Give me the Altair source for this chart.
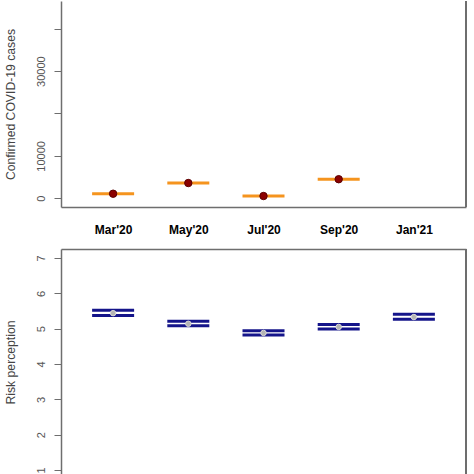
import altair as alt
import pandas as pd

# Survey waves
waves = ["Mar'20", "May'20", "Jul'20", "Sep'20", "Jan'21"]

# Confirmed COVID-19 cases per wave (no figure for Jan'21)
case_waves = ["Mar'20", "May'20", "Jul'20", "Sep'20"]
cases = [1080, 3600, 540, 4500]

# Mean risk perception with 95% CI per wave
risk_mean = [5.44, 5.14, 4.88, 5.05, 5.33]
risk_low = [5.37, 5.08, 4.82, 4.99, 5.27]
risk_high = [5.52, 5.21, 4.94, 5.12, 5.41]

cases_df = pd.DataFrame({"wave": case_waves, "cases": cases})
risk_df = pd.DataFrame({"wave": waves, "mean": risk_mean,
                        "low": risk_low, "high": risk_high})

W = 405
FONT = "Liberation Sans"
FRAME = "#6e6e6e"
LABEL = "#555555"

x_scale = alt.Scale(type="point", domain=waves, padding=0.693)


def y_axis(title, values, label_expr=None):
    kw = dict(title=title, values=values, format="d", labelAngle=-90,
              labelFont=FONT, labelFontSize=11, labelColor=LABEL,
              labelPadding=8, labelBaseline="bottom", labelAlign="center",
              titleFont=FONT, titleFontSize=12.2, titleFontWeight="normal",
              titleColor="#444444", titlePadding=18, tickSize=7,
              tickColor=FRAME, domainColor=FRAME, domainWidth=1.5,
              grid=False)
    if label_expr:
        kw["labelExpr"] = label_expr
    return alt.Axis(**kw)


# --- Top panel: confirmed cases ---
H1 = 206
top_x = alt.X("wave:N", scale=x_scale, sort=waves,
              axis=alt.Axis(title=None, orient="bottom", ticks=False,
                            labelAngle=0, labelFont=FONT, labelFontSize=12,
                            labelFontWeight="bold", labelColor="black",
                            labelPadding=17, domainColor=FRAME,
                            domainWidth=1.5))
top_y = alt.Y("cases:Q",
              scale=alt.Scale(domain=[-2052, 46533], nice=False, zero=False),
              axis=y_axis("Confirmed COVID-19 cases",
                          [0, 10000, 20000, 30000, 40000],
                          "datum.value == 20000 || datum.value == 40000 ? '' : datum.label"))

top_base = alt.Chart(cases_df).encode(x=top_x, y=top_y)
top_bar = top_base.mark_tick(size=42, thickness=3, color="#f5941e", opacity=1)
top_pt = top_base.mark_point(filled=True, size=55, color="#8b0000",
                             stroke="#5c0000", strokeWidth=1, opacity=1)
top_right = alt.Chart(cases_df).mark_rule(color=FRAME, strokeWidth=1.5).encode(
    x=alt.value(W), y=alt.value(0), y2=alt.value(H1))
top = alt.layer(top_bar, top_pt, top_right).properties(width=W, height=H1)

# --- Bottom panel: risk perception ---
H2 = 226
bot_x = alt.X("wave:N", scale=x_scale, sort=waves,
              axis=alt.Axis(title=None, orient="top", labels=False,
                            ticks=False, domainColor=FRAME, domainWidth=1.5))
bot_scale = alt.Scale(domain=[0.86, 7.255], nice=False, zero=False)
bot_axis = y_axis("Risk perception", [1, 2, 3, 4, 5, 6, 7])

rb = alt.Chart(risk_df)
low_tick = rb.mark_tick(size=42, thickness=3, color="#14148a", opacity=1).encode(
    x=bot_x, y=alt.Y("low:Q", scale=bot_scale, axis=bot_axis))
high_tick = rb.mark_tick(size=42, thickness=3, color="#14148a", opacity=1).encode(
    x=bot_x, y=alt.Y("high:Q", scale=bot_scale, axis=bot_axis))
mean_pt = rb.mark_point(filled=True, size=30, color="#b4b4b4",
                        stroke="#d8d8d8", strokeWidth=1, opacity=1).encode(
    x=bot_x, y=alt.Y("mean:Q", scale=bot_scale, axis=bot_axis))
bot_right = rb.mark_rule(color=FRAME, strokeWidth=1.5).encode(
    x=alt.value(W), y=alt.value(0), y2=alt.value(H2))
bottom = alt.layer(low_tick, high_tick, mean_pt, bot_right).properties(
    width=W, height=H2)

chart = alt.vconcat(top, bottom, spacing=42, bounds="flush").properties(
    padding={"left": 3, "top": 0, "right": 0, "bottom": 0},
    background="white",
).configure_view(stroke=None)

chart.save("out.html", embed_options={"renderer": "svg", "actions": False})
